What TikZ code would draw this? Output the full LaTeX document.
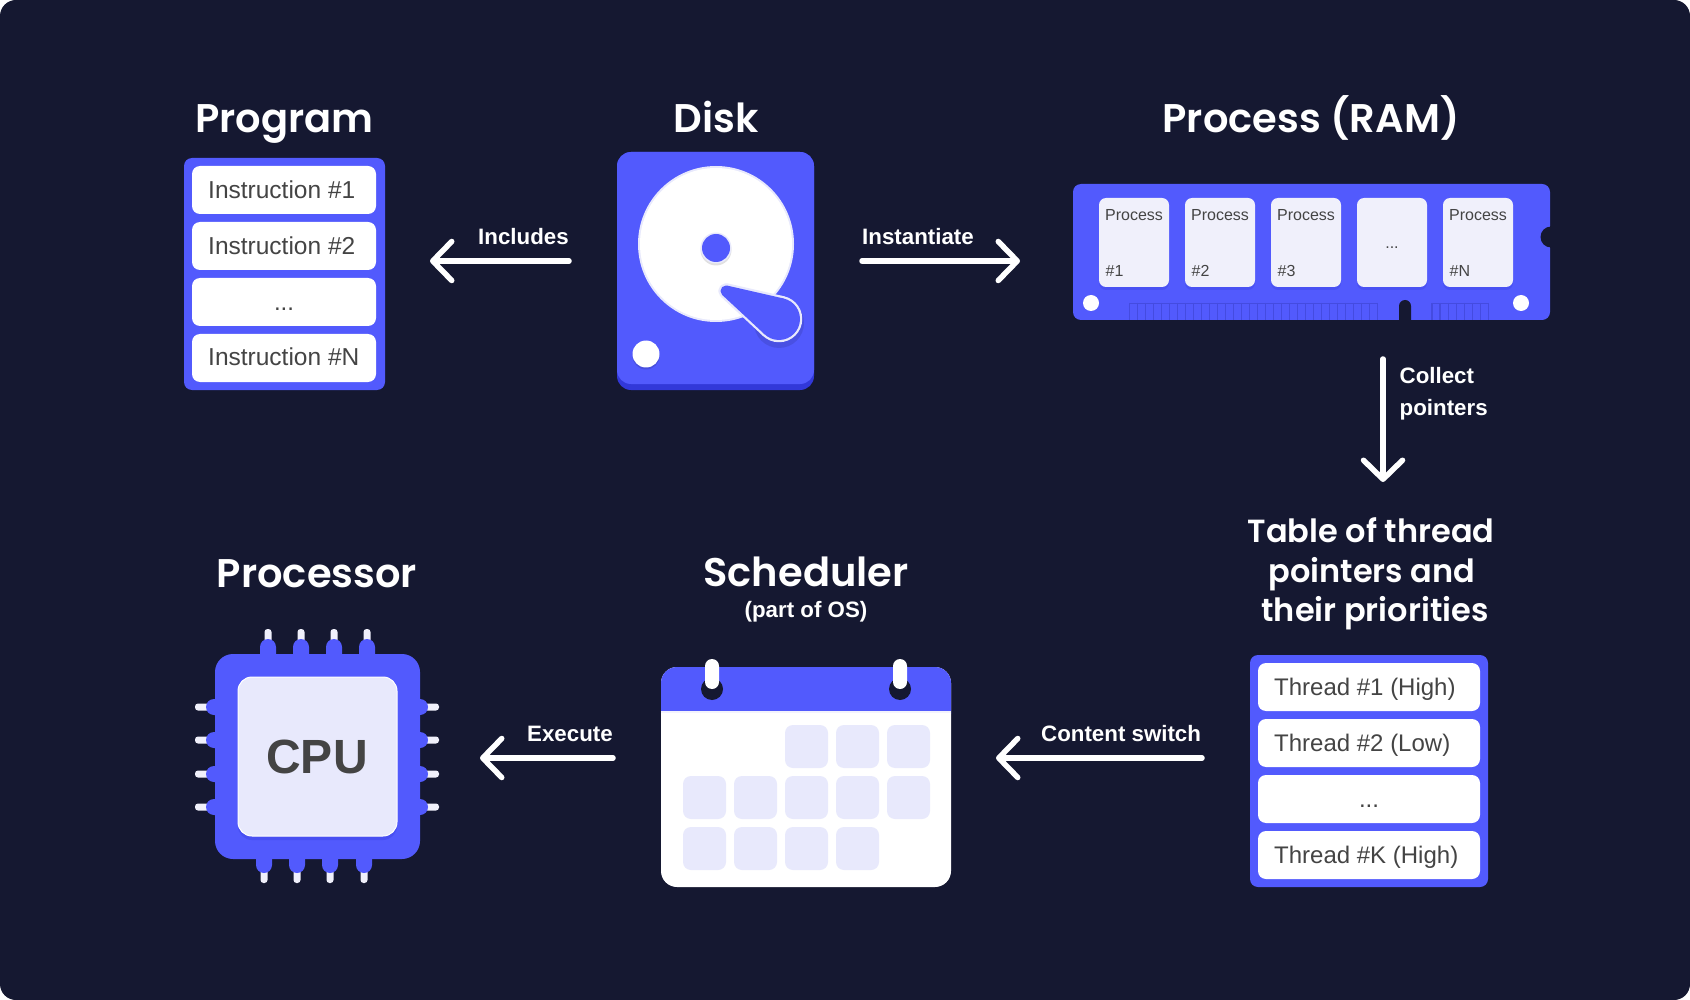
\documentclass[tikz,border=0pt]{standalone}
\usepackage{fontspec}
\setmainfont{Liberation Sans}
\newfontfamily\popfont{Poppins}[UprightFont=* SemiBold]
\usetikzlibrary{arrows.meta}
\definecolor{bgc}{HTML}{151831}
\definecolor{bluec}{HTML}{525AFD}
\definecolor{deepc}{HTML}{3238D9}
\definecolor{pinc}{HTML}{444BE0}
\definecolor{palec}{HTML}{E8E9FC}
\definecolor{chipc}{HTML}{F0F0FB}
\definecolor{inkc}{HTML}{444444}
\tikzset{
  title/.style={text=white,font=\popfont\fontsize{40}{40}\selectfont,anchor=base,inner sep=0pt},
  subt/.style={text=white,font=\popfont\fontsize{32}{32}\selectfont,anchor=base,inner sep=0pt},
  lab/.style={text=white,font=\fontsize{22.3}{22.3}\selectfont\bfseries,anchor=base west,inner sep=0pt},
  row/.style={text=inkc,font=\fontsize{24}{24}\selectfont,anchor=base west,inner sep=0pt},
  rowb/.style={row,font=\fontsize{24.5}{24.5}\selectfont},
  dots/.style={text=inkc,font=\fontsize{24}{24}\selectfont,anchor=base,inner sep=0pt},
  small/.style={text=inkc,font=\fontsize{16}{16}\selectfont,anchor=base,inner sep=0pt},
  smallw/.style={small,anchor=base west},
  panel/.style={fill=bluec,rounded corners=8pt},
  cell/.style={fill=white,rounded corners=8pt},
  chip/.style={fill=chipc,rounded corners=7pt},
  day/.style={fill=palec,rounded corners=8pt},
  flow/.style={draw=white,line width=5.5pt,line cap=round,-{Straight Barb[round,length=19pt,width=39pt]}},
  pinblue/.style={fill=bluec},
  stick/.style={fill=chipc,rounded corners=3pt},
}
\begin{document}
\begin{tikzpicture}[x=1pt,y=-1pt]
\useasboundingbox (0,0) rectangle (1690,1000);
\fill[white] (0,0) rectangle (1690,1000);
\fill[bgc,rounded corners=16pt] (0,0) rectangle (1690,1000);

% ---------- Program
\node[title] (tprog) at (284.5,132.5) {Program};
\fill[panel] (184,158) rectangle (385,390);
\foreach \t in {166,222,278,334}{\fill[cell] (192,\t) rectangle (376,\t+48);}
\node[rowb] (i1) at (208,199) {Instruction \#1};
\node[rowb] (i2) at (208,255) {Instruction \#2};
\node[dots] (i3) at (284,311) {...};
\node[rowb] (i4) at (208,366) {Instruction \#N};

% ---------- Disk
\node[title] (tdisk) at (716,132.5) {Disk};
\fill[deepc,rounded corners=14pt] (617,152) rectangle (814,390);
\fill[bluec,rounded corners=14pt] (617,152) rectangle (814,384);
\fill[palec] (716,244) circle[radius=78];
\fill[white] (716,244) circle[radius=76];
\fill[black,opacity=.12] (716,250) circle[radius=15.5];
\fill[palec] (716,248) circle[radius=15.5];
\fill[bluec] (716,248) circle[radius=14];
\fill[black,opacity=.12] (646,356) circle[radius=13.5];
\fill[white] (646,354) circle[radius=13.5];
% arm
\fill[black,opacity=.10] (779,323) circle[radius=25];
\draw[palec,line width=4.5pt,fill=palec,line join=round] (726,291) circle[radius=5.5];
\draw[palec,line width=4.5pt,fill=palec,line join=round] (779,319) circle[radius=21];
\draw[palec,line width=4.5pt,fill=palec,line join=round] (727.2,285.6) -- (783.7,298.5) -- (764.7,334.4) -- (722.3,295) -- cycle;
\fill[bluec] (726,291) circle[radius=5.5];
\fill[bluec] (779,319) circle[radius=21];
\fill[bluec] (727.2,285.6) -- (783.7,298.5) -- (764.7,334.4) -- (722.3,295) -- cycle;

% ---------- RAM
\node[title] (tram) at (1311,132.5) {Process (RAM)};
\fill[bluec,rounded corners=8pt] (1073,184) rectangle (1550,320);
\fill[bgc] (1551,237) circle[radius=10.5];
\fill[bgc] (1550,226) rectangle (1552,248);
\foreach \x in {1099,1185,1271,1357,1443}{
  \fill[deepc,opacity=.25,rounded corners=7pt] (\x,201) rectangle (\x+70,290);
  \fill[chip] (\x,198) rectangle (\x+70,287);
}
\node[small] (p1) at (1134,221) {Process};
\node[small] (p2) at (1220,221) {Process};
\node[small] (p3) at (1306,221) {Process};
\node[small] (p5) at (1478,221) {Process};
\node[smallw] (n1) at (1105.5,276.5) {\#1};
\node[smallw] (n2) at (1191.5,276.5) {\#2};
\node[smallw] (n3) at (1277.5,276.5) {\#3};
\node[small] (n4) at (1392,249) {...};
\node[smallw] (n5) at (1449.5,276.5) {\#N};
\fill[white] (1091,303) circle[radius=8];
\fill[white] (1521,303) circle[radius=8];
\foreach \x in {0,...,31}{\draw[pinc,line width=1.4pt] (1129.5+8*\x,303) -- (1129.5+8*\x,320);}
\foreach \x in {0,...,7}{\draw[pinc,line width=1.4pt] (1432+8.1*\x,303) -- (1432+8.1*\x,320);}
\draw[pinc,line width=1.4pt] (1129,303.7) -- (1378,303.7);
\draw[pinc,line width=1.4pt] (1432,303.7) -- (1489,303.7);
\fill[bgc,rounded corners=6pt] (1399,300) rectangle (1411,330);
\fill[bgc] (1399,320) rectangle (1411,330);

% ---------- Thread table
\node[subt] (ta) at (1371,542.5) {Table of thread};
\node[subt] (tb) at (1372,582.5) {pointers and};
\node[subt] (tc) at (1375,621.5) {their priorities};
\fill[panel] (1250,655) rectangle (1488,887);
\foreach \t in {663,719,775,831}{\fill[cell] (1258,\t) rectangle (1480,\t+48);}
\node[row] (r1) at (1274,695) {Thread \#1 (High)};
\node[row] (r2) at (1274,751) {Thread \#2 (Low)};
\node[dots] (r3) at (1369,807) {...};
\node[row] (r4) at (1274,863) {Thread \#K (High)};

% ---------- Scheduler
\node[title] (tsch) at (806,586) {Scheduler};
\node[text=white,font=\fontsize{22.3}{22.3}\selectfont\bfseries,anchor=base,inner sep=0pt] (tsub) at (806,617) {(part of OS)};
\fill[white,rounded corners=16pt] (661,667) rectangle (951,887);
\fill[bluec,rounded corners=16pt] (661,667) rectangle (951,730);
\fill[white] (661,711) rectangle (951,735);
\fill[palec,opacity=.5] (661,711) rectangle (951,713);
\foreach \x in {712,900}{
  \fill[bgc] (\x,689) circle[radius=11];
  \fill[white,rounded corners=7pt] (\x-7,659) rectangle (\x+7,689);
}
\foreach \x/\y in {785/725,836/725,887/725,683/776,734/776,785/776,836/776,887/776,683/827,734/827,785/827,836/827}{
  \fill[day] (\x,\y) rectangle (\x+43,\y+43);
}

% ---------- Processor
\node[title] (tcpu) at (317,587) {Processor};
\foreach \x in {268,301,334,367}{
  \fill[stick] (\x-3.5,629) rectangle (\x+3.5,645);
  \fill[pinblue,rounded corners=8pt] (\x-8,639) rectangle (\x+8,670);
}
\foreach \x in {264,297,330,364}{
  \fill[stick] (\x-3.5,865) rectangle (\x+3.5,883);
  \fill[pinblue,rounded corners=8pt] (\x-8,845) rectangle (\x+8,873);
}
\foreach \y in {707,740,774,807}{
  \fill[stick] (195,\y-3.5) rectangle (212,\y+3.5);
  \fill[stick] (422,\y-3.5) rectangle (439,\y+3.5);
  \fill[pinblue,rounded corners=8pt] (206,\y-8) rectangle (230,\y+8);
  \fill[pinblue,rounded corners=8pt] (405,\y-8) rectangle (428,\y+8);
}
\fill[bluec,rounded corners=18pt] (215,654) rectangle (420,859);
\fill[deepc,opacity=.3,rounded corners=14pt] (238,681) rectangle (397,840);
\fill[palec,draw=white,line width=1pt,rounded corners=14pt] (238,677) rectangle (397,836);
\node[text=inkc,font=\fontsize{48}{48}\selectfont\bfseries,anchor=base,inner sep=0pt] (tchip) at (317,773) {CPU};

% ---------- Connectors
\coordinate (a1s) at (569,261); \coordinate (a1e) at (430,261);
\coordinate (a2s) at (862,261); \coordinate (a2e) at (1020,261);
\coordinate (a3s) at (1383,359); \coordinate (a3e) at (1383,482);
\coordinate (a4s) at (1202,758); \coordinate (a4e) at (996,758);
\coordinate (a5s) at (613,758); \coordinate (a5e) at (480,758);
\draw[flow] (a1s) -- (a1e);
\draw[flow] (a2s) -- (a2e);
\draw[flow] (a3s) -- (a3e);
\draw[flow] (a4s) -- (a4e);
\draw[flow] (a5s) -- (a5e);
\node[lab] (l1) at (478,245) {Includes};
\node[lab] (l2) at (862,245) {Instantiate};
\node[lab] (l3a) at (1399.5,383) {Collect};
\node[lab] (l3b) at (1399.5,415) {pointers};
\node[lab] (l4) at (1041,741) {Content switch};
\node[lab] (l5) at (527,741) {Execute};
\end{tikzpicture}
\end{document}
